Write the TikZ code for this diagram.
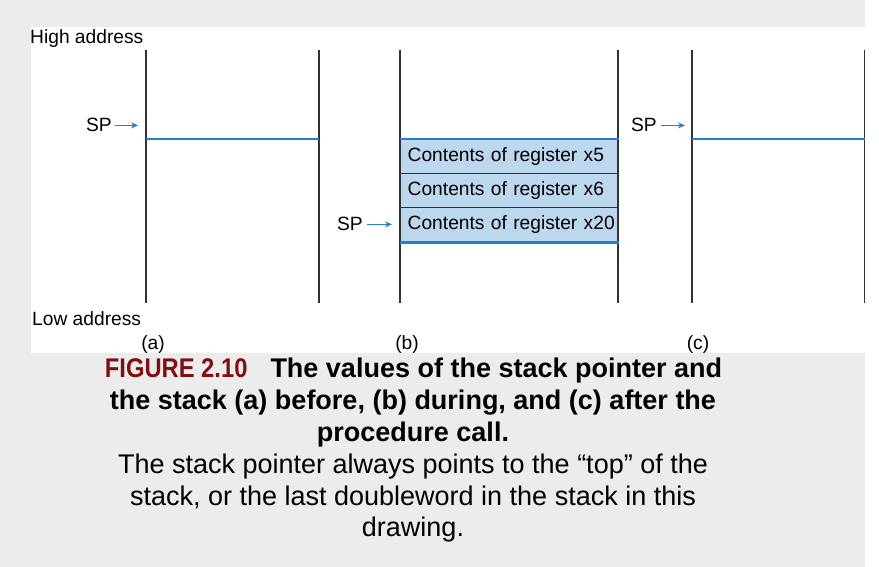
\documentclass[tikz,border=0pt]{standalone}
\usepackage{fontspec}
\setmainfont{Liberation Sans}
\newfontfamily\narrowfont[FakeStretch=0.88]{Liberation Sans}
\usetikzlibrary{arrows.meta}
\definecolor{bggray}{RGB}{236,236,236}
\definecolor{spblue}{RGB}{36,128,196}
\definecolor{boxblue}{RGB}{189,215,238}
\definecolor{linegray}{RGB}{50,50,50}
\definecolor{figred}{RGB}{128,16,16}
\begin{document}
\begin{tikzpicture}[x=1pt,y=-1pt,
  lbl/.style={inner sep=0pt, font=\fontsize{19.2}{23}\selectfont},
  stackline/.style={draw=linegray, line width=1.4pt},
  topline/.style={draw=spblue, line width=2.6pt},
  sparrow/.style={draw=spblue, line width=1.5pt, -{Stealth[length=7pt,width=6pt]}},
  regbox/.style={draw=linegray, line width=1.4pt, fill=boxblue, anchor=north west,
    minimum height=34pt, text width=218pt, inner xsep=0pt, inner ysep=0pt, align=left,
    execute at begin node=\hspace*{7pt},
    font=\fontsize{19.2}{23}\selectfont},
  capb/.style={inner sep=0pt, anchor=base, font=\fontsize{27}{32}\selectfont\bfseries},
  capn/.style={inner sep=0pt, anchor=base, font=\fontsize{27}{32}\selectfont}]
\useasboundingbox (0,0) rectangle (879,567);
\fill[bggray] (0,0) rectangle (865,567);
\fill[white] (31,27) rectangle (879,353);

% labels
\node[lbl, anchor=base west] (high) at (30,44) {High address};
\node[lbl, anchor=base west] (low) at (32,325) {Low address};
\node[lbl, anchor=base] (la) at (153,349) {(a)};
\node[lbl, anchor=base] (lb) at (407,349) {(b)};
\node[lbl, anchor=base] (lc) at (698,349) {(c)};

% (a)
\draw[stackline] (146,50) -- (146,303);
\draw[stackline] (319,50) -- (319,303);
\draw[topline] (146,139) -- (319,139);
\node[lbl, anchor=base east] (spa) at (112,132) {SP};
\coordinate (spat) at (138,126);
\draw[sparrow] ([xshift=3pt]spa.east) -- (spa.east -| spat);

% (b)
\node[regbox] (r5) at (400,139) {Contents of register x5};
\node[regbox] (r6) at (400,173) {Contents of register x6};
\node[regbox] (r20) at (400,207) {Contents of register x20};
\draw[stackline] (400,50) -- (400,303);
\draw[stackline] (618,50) -- (618,303);
\draw[topline] (r5.north west) -- (r5.north east);
\draw[topline] (r20.south west) -- (r20.south east);
\node[lbl, anchor=base east] (spb) at (363,231) {SP};
\coordinate (spbt) at (392,224);
\draw[sparrow] ([xshift=4pt]spb.east) -- (spb.east -| spbt);

% (c)
\draw[stackline] (692,50) -- (692,303);
\draw[stackline] (864.5,50) -- (864.5,303);
\draw[topline] (692,139) -- (864.5,139);
\node[lbl, anchor=base east] (spc) at (657,132) {SP};
\coordinate (spct) at (685,126);
\draw[sparrow] ([xshift=4pt]spc.east) -- (spc.east -| spct);

% caption
\node[capb] (cap1) at (413.5,377) {\textcolor{figred}{\narrowfont FIGURE 2.10}\hspace{23pt}The values of the stack pointer and};
\node[capb] (cap2) at (413,409) {the stack (a) before, (b) during, and (c) after the};
\node[capb] (cap3) at (413,441) {procedure call.};
\node[capn] (cap4) at (413,473) {The stack pointer always points to the “top” of the};
\node[capn] (cap5) at (413,505) {stack, or the last doubleword in the stack in this};
\node[capn] (cap6) at (413,536) {drawing.};
\end{tikzpicture}
\end{document}
